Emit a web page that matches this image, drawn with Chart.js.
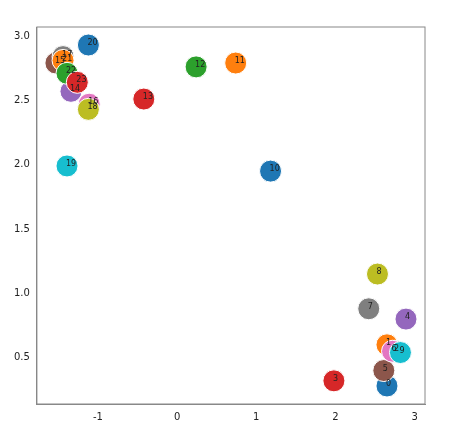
<!DOCTYPE html>
<html>
<head>
<meta charset="utf-8">
<script src="https://cdn.jsdelivr.net/npm/chart.js@4/dist/chart.umd.min.js"></script>
<style>
  html, body { margin: 0; padding: 0; background: #fff; }
  #wrap { width: 449px; height: 434px; }
</style>
</head>
<body>
<div id="wrap"><canvas id="chart"></canvas></div>
<script>
// point coordinates, index = label
const xs = [2.65, 2.65, 2.75, 1.98, 2.89, 2.61, 2.72, 2.42, 2.53, 2.82, 1.18, 0.74, 0.24, -0.42,
            -1.34, -1.53, -1.11, -1.44, -1.12, -1.39, -1.12, -1.44, -1.39, -1.26];
const ys = [0.28, 0.60, 0.55, 0.32, 0.80, 0.40, 0.55, 0.88, 1.15, 0.54, 1.95, 2.79, 2.76, 2.51,
            2.57, 2.79, 2.47, 2.84, 2.43, 1.99, 2.93, 2.81, 2.71, 2.64];
const xTicks = [-1, 0, 1, 2, 3];
const yTicks = [0.5, 1.0, 1.5, 2.0, 2.5, 3.0];
const palette = ['#1f77b4', '#ff7f0e', '#2ca02c', '#d62728', '#9467bd',
                 '#8c564b', '#e377c2', '#7f7f7f', '#bcbd22', '#17becf'];

const points = xs.map((x, i) => ({ x: x, y: ys[i] }));
const colors = xs.map((x, i) => palette[i % 10]);

// write the index on each point
const labelPlugin = {
    id: 'labels',
    afterDatasetsDraw(chart) {
        const ctx = chart.ctx;
        const meta = chart.getDatasetMeta(0);
        ctx.save();
        ctx.fillStyle = '#222';
        ctx.font = '8px "DejaVu Sans"';
        ctx.textBaseline = 'middle';
        meta.data.forEach((el, i) => {
            ctx.fillText(String(i), el.x - 1, el.y - 2);
        });
        ctx.restore();
    }
};

new Chart(document.getElementById('chart'), {
    type: 'scatter',
    data: {
        datasets: [{
            data: points,
            backgroundColor: colors,
            borderColor: '#ffffff',
            borderWidth: 1,
            pointRadius: 11,
            pointHoverRadius: 11
        }]
    },
    options: {
        responsive: true,
        maintainAspectRatio: false,
        animation: false,
        layout: { padding: { top: 27, right: 24, bottom: 8, left: 11 } },
        plugins: { legend: { display: false }, tooltip: { enabled: false } },
        scales: {
            x: {
                type: 'linear', min: -1.77, max: 3.13,
                afterBuildTicks: axis => { axis.ticks = xTicks.map(v => ({ value: v })); },
                grid: { display: false, drawOnChartArea: false, drawTicks: true, tickLength: 4, tickColor: '#333' },
                border: { display: true, color: '#888' },
                ticks: { color: '#222', font: { family: 'DejaVu Sans', size: 10 }, maxRotation: 0 }
            },
            y: {
                type: 'linear', min: 0.14, max: 3.07,
                afterBuildTicks: axis => { axis.ticks = yTicks.map(v => ({ value: v })); },
                grid: { display: false, drawOnChartArea: false, drawTicks: true, tickLength: 4, tickColor: '#333' },
                border: { display: true, color: '#888' },
                ticks: { color: '#222', font: { family: 'DejaVu Sans', size: 10 },
                         callback: v => v.toFixed(1) }
            }
        }
    },
    plugins: [labelPlugin, {
        id: 'frame',
        afterDraw(chart) {
            const a = chart.chartArea, ctx = chart.ctx;
            ctx.save();
            ctx.strokeStyle = '#888';
            ctx.lineWidth = 1;
            ctx.strokeRect(a.left, a.top, a.right - a.left, a.bottom - a.top);
            ctx.restore();
        }
    }]
});
</script>
</body>
</html>
